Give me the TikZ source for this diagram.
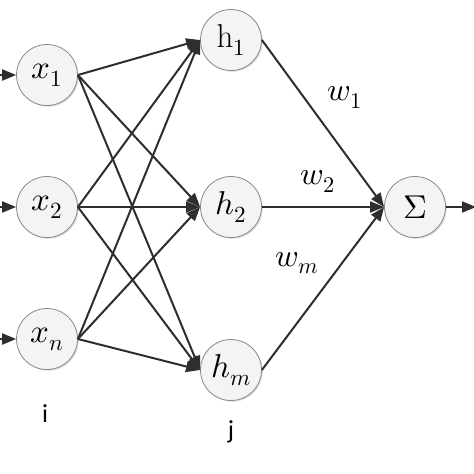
\documentclass[tikz,border=0pt]{standalone}
\usepackage{unicode-math}
\newfontfamily\labelfont{Carlito}
\usetikzlibrary{arrows.meta,shadows}
\definecolor{edgecol}{HTML}{2E2E2E}
\definecolor{circfill}{HTML}{F4F4F4}
\definecolor{circdraw}{HTML}{8A8A8A}
\tikzset{
  neuron/.style={circle, draw=circdraw, line width=0.8pt, fill=circfill,
    minimum size=61pt, inner sep=0pt, font=\fontsize{33}{35}\selectfont,
    drop shadow={shadow xshift=1.2pt, shadow yshift=-1.2pt, fill=gray!45, opacity=0.6}},
  conn/.style={draw=edgecol, line width=2pt, -{Triangle[length=14pt,width=11pt]}},
  wlab/.style={font=\fontsize{32}{34}\selectfont},
  idxlab/.style={font=\labelfont\fontsize{26}{28}\selectfont}
}
\begin{document}
\begin{tikzpicture}[x=1pt,y=-1pt]
\useasboundingbox (0,0) rectangle (474,474);
\fill[white] (0,0) rectangle (474,474);
% nodes
\node[neuron] (x1) at (47,75) {$x_1$};
\node[neuron] (x2) at (47,207) {$x_2$};
\node[neuron] (xn) at (47,339) {$x_n$};
\node[neuron] (h1) at (231,40) {$\mathrm{h}_1$};
\node[neuron] (h2) at (231,207) {$h_2$};
\node[neuron] (hm) at (231,370) {$h_m$};
\node[neuron] (S) at (415,207) {$\Sigma$};
% inputs/outputs
\coordinate (in1) at (-2,75);
\coordinate (in2) at (-2,207);
\coordinate (inn) at (-2,339);
\coordinate (out) at (476,207);
\draw[conn] (in1) -- (x1.west);
\draw[conn] (in2) -- (x2.west);
\draw[conn] (inn) -- (xn.west);
\draw[conn] (S.east) -- (out);
% input to hidden
\foreach \a in {x1,x2,xn}{
  \foreach \b in {h1,h2,hm}{
    \draw[conn] (\a.east) -- (\b.west);
  }
}
% hidden to output
\draw[conn] (h1.east) -- (S.west);
\draw[conn] (h2.east) -- (S.west);
\draw[conn] (hm.east) -- (S.west);
% weight labels
\node[wlab] (w1) at (345,97) {$w_1$};
\node[wlab] (w2) at (318,181) {$w_2$};
\node[wlab] (wm) at (297,263) {$w_m$};
% layer labels
\node[idxlab] (li) at (45,414) {i};
\node[idxlab] (lj) at (231,432) {j};
\end{tikzpicture}
\end{document}
